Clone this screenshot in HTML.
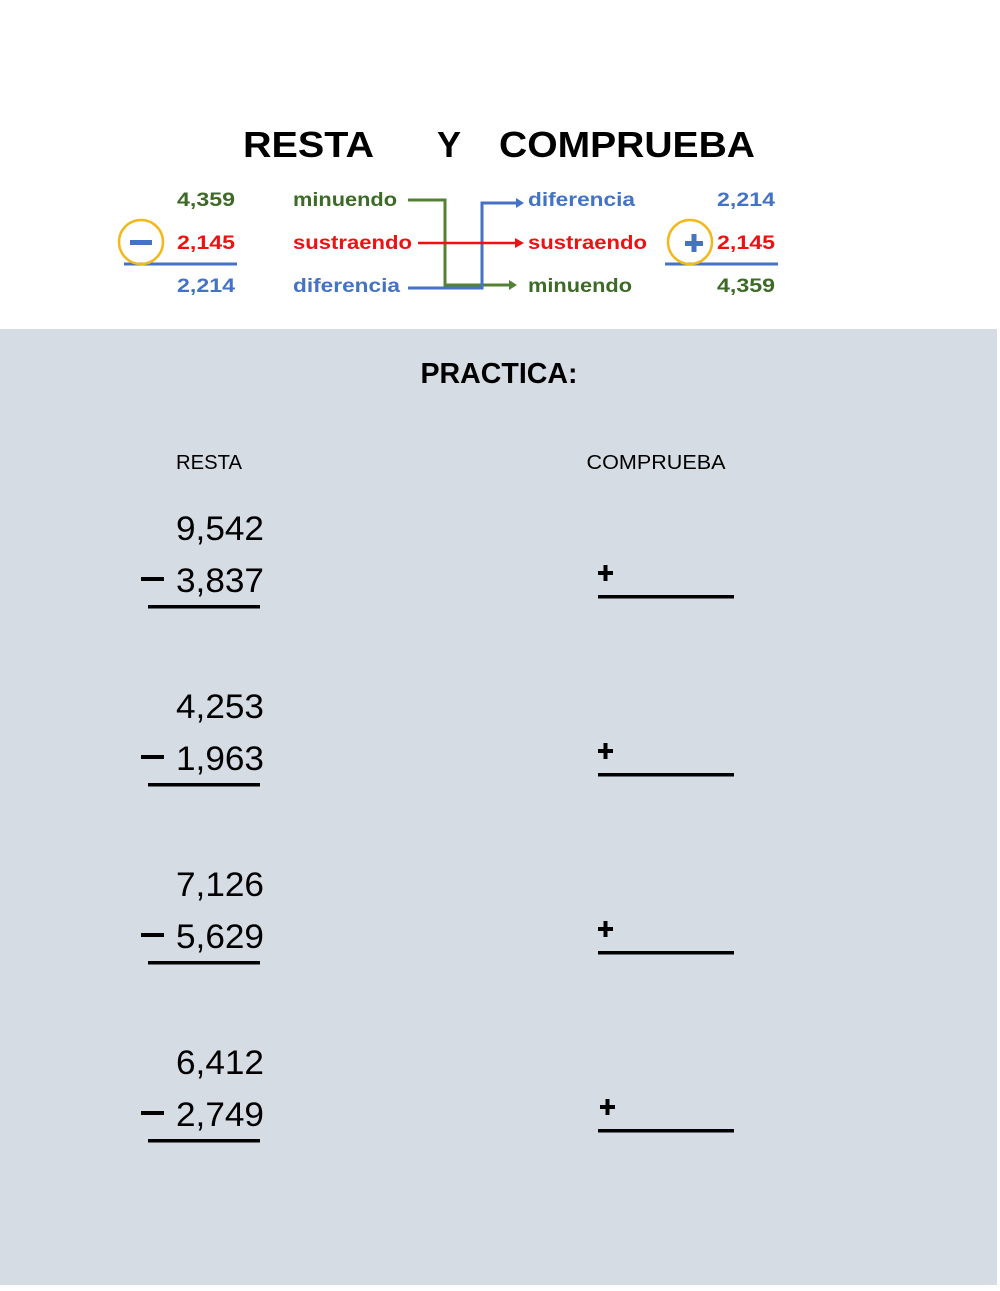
<!DOCTYPE html>
<html><head><meta charset="utf-8"><style>
html,body{margin:0;padding:0;background:#fff;width:1000px;height:1291px;overflow:hidden}
svg{display:block}
text{font-family:"Liberation Sans",sans-serif}
</style></head><body>
<svg width="1000" height="1291" viewBox="0 0 1000 1291">
<rect x="0" y="329" width="997" height="956" fill="#d6dce4"/>
<g font-size="36" font-weight="bold">
<text x="243" y="157" textLength="131" lengthAdjust="spacingAndGlyphs">RESTA</text>
<text x="437" y="157" textLength="24" lengthAdjust="spacingAndGlyphs">Y</text>
<text x="499" y="157" textLength="256" lengthAdjust="spacingAndGlyphs">COMPRUEBA</text>
</g>
<g font-size="19" font-weight="bold">
<text x="177" y="206" fill="#3d6b27" textLength="58" lengthAdjust="spacingAndGlyphs">4,359</text>
<text x="177" y="249" fill="#ee1111" textLength="58" lengthAdjust="spacingAndGlyphs">2,145</text>
<text x="177" y="292" fill="#4472c4" textLength="58" lengthAdjust="spacingAndGlyphs">2,214</text>
<text x="293" y="206" fill="#3d6b27" textLength="104" lengthAdjust="spacingAndGlyphs">minuendo</text>
<text x="293" y="249" fill="#ee1111" textLength="119" lengthAdjust="spacingAndGlyphs">sustraendo</text>
<text x="293" y="292" fill="#4472c4" textLength="107" lengthAdjust="spacingAndGlyphs">diferencia</text>
<text x="528" y="206" fill="#4472c4" textLength="107" lengthAdjust="spacingAndGlyphs">diferencia</text>
<text x="528" y="249" fill="#ee1111" textLength="119" lengthAdjust="spacingAndGlyphs">sustraendo</text>
<text x="528" y="292" fill="#3d6b27" textLength="104" lengthAdjust="spacingAndGlyphs">minuendo</text>
<text x="717" y="206" fill="#4472c4" textLength="58" lengthAdjust="spacingAndGlyphs">2,214</text>
<text x="717" y="249" fill="#ee1111" textLength="58" lengthAdjust="spacingAndGlyphs">2,145</text>
<text x="717" y="292" fill="#3d6b27" textLength="58" lengthAdjust="spacingAndGlyphs">4,359</text>
</g>
<line x1="124" y1="264" x2="237" y2="264" stroke="#4472c4" stroke-width="3"/>
<line x1="665" y1="264" x2="778" y2="264" stroke="#4472c4" stroke-width="3"/>
<circle cx="141" cy="242" r="22" fill="none" stroke="#f2b81c" stroke-width="2.5"/>
<rect x="130" y="240" width="22" height="5" fill="#4472c4"/>
<circle cx="690" cy="242" r="22" fill="none" stroke="#f2b81c" stroke-width="2.5"/>
<rect x="685" y="241" width="18" height="5" fill="#4472c4"/>
<rect x="691.5" y="234" width="5" height="18" fill="#4472c4"/>
<polyline points="408,200 445,200 445,285 510,285" fill="none" stroke="#548235" stroke-width="3"/>
<polygon points="509,280 517,285 509,290" fill="#548235"/>
<polyline points="408,288 482,288 482,203 518,203" fill="none" stroke="#4472c4" stroke-width="3"/>
<polygon points="516,198 524,203 516,208" fill="#4472c4"/>
<line x1="418" y1="243" x2="516" y2="243" stroke="#ee1111" stroke-width="2.5"/>
<polygon points="515,238 524,243 515,248" fill="#ee1111"/>
<text x="499" y="383" text-anchor="middle" font-size="29" font-weight="bold" textLength="157" lengthAdjust="spacingAndGlyphs">PRACTICA:</text>
<text x="209" y="469" text-anchor="middle" font-size="20" textLength="66" lengthAdjust="spacingAndGlyphs">RESTA</text>
<text x="656" y="469" text-anchor="middle" font-size="20" textLength="139" lengthAdjust="spacingAndGlyphs">COMPRUEBA</text>
<g font-size="34">
<g>
<text x="264" y="540" text-anchor="end" textLength="88" lengthAdjust="spacingAndGlyphs">9,542</text>
<text x="264" y="592" text-anchor="end" textLength="88" lengthAdjust="spacingAndGlyphs">3,837</text>
</g>
<g transform="translate(0,178)">
<text x="264" y="540" text-anchor="end" textLength="88" lengthAdjust="spacingAndGlyphs">4,253</text>
<text x="264" y="592" text-anchor="end" textLength="88" lengthAdjust="spacingAndGlyphs">1,963</text>
</g>
<g transform="translate(0,356)">
<text x="264" y="540" text-anchor="end" textLength="88" lengthAdjust="spacingAndGlyphs">7,126</text>
<text x="264" y="592" text-anchor="end" textLength="88" lengthAdjust="spacingAndGlyphs">5,629</text>
</g>
<g transform="translate(0,534)">
<text x="264" y="540" text-anchor="end" textLength="88" lengthAdjust="spacingAndGlyphs">6,412</text>
<text x="264" y="592" text-anchor="end" textLength="88" lengthAdjust="spacingAndGlyphs">2,749</text>
</g>
</g>
<g>
<g>
<rect x="141" y="577" width="23" height="4"/>
<rect x="148" y="605" width="112" height="3.5"/>
<rect x="598" y="571" width="15" height="4"/><rect x="603.5" y="565" width="4" height="16"/>
<rect x="598" y="595" width="136" height="3.5"/>
</g>
<g transform="translate(0,178)">
<rect x="141" y="577" width="23" height="4"/>
<rect x="148" y="605" width="112" height="3.5"/>
<rect x="598" y="571" width="15" height="4"/><rect x="603.5" y="565" width="4" height="16"/>
<rect x="598" y="595" width="136" height="3.5"/>
</g>
<g transform="translate(0,356)">
<rect x="141" y="577" width="23" height="4"/>
<rect x="148" y="605" width="112" height="3.5"/>
<rect x="598" y="571" width="15" height="4"/><rect x="603.5" y="565" width="4" height="16"/>
<rect x="598" y="595" width="136" height="3.5"/>
</g>
<g transform="translate(0,534)">
<rect x="141" y="577" width="23" height="4"/>
<rect x="148" y="605" width="112" height="3.5"/>
<rect x="600" y="571" width="15" height="4"/><rect x="605.5" y="565" width="4" height="16"/>
<rect x="598" y="595" width="136" height="3.5"/>
</g>
</g>
</svg>
</body></html>
